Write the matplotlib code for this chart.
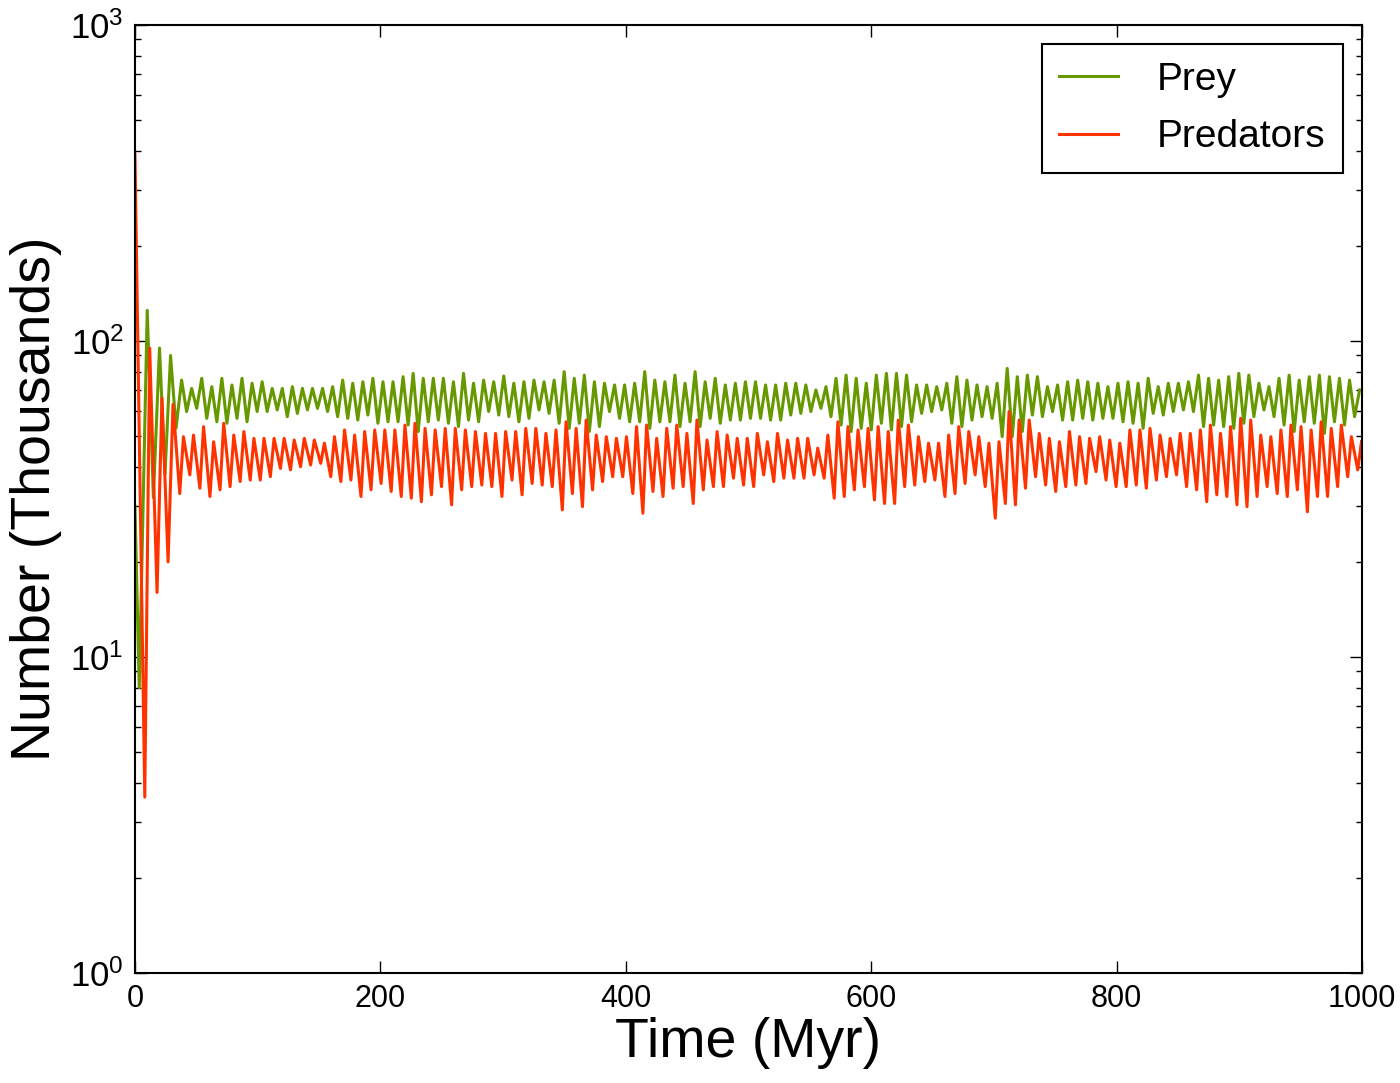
import numpy as np
import matplotlib
matplotlib.use("Agg")
import matplotlib.pyplot as plt

plt.rcParams['font.family'] = ['Liberation Sans', 'DejaVu Sans']
plt.rcParams['mathtext.fontset'] = 'custom'
plt.rcParams['mathtext.rm'] = 'Liberation Sans'
plt.rcParams['mathtext.it'] = 'Liberation Sans:italic'
plt.rcParams['mathtext.bf'] = 'Liberation Sans:bold'

# early transient (time in Myr, numbers in thousands)
prey_early_t = [0, 3.5, 10, 15, 20, 24.5, 29, 33.5]
prey_early = [30, 8, 125, 32, 95, 38, 90, 53]
pred_early_t = [0, 8, 12, 18, 22, 27, 31]
pred_early = [390, 3.6, 95, 16, 66, 20, 63]

# steady oscillation: one peak and one trough per cycle, t from ~38 to 1000 Myr
prey_peaks = [
    75.2, 70.8, 76.2, 71.7, 76.2, 72.6, 76.2, 73.5, 74.3, 70.8, 70.8, 71.7, 70.8, 70.8, 70.8, 71.7, 75.2, 73.5, 74.3, 76.2, 74.3,
    74.3, 77.1, 79.0, 76.2, 76.2, 76.2, 74.3, 79.0, 73.5, 75.2, 74.3, 77.5, 73.5, 74.3, 75.2, 74.3, 75.2, 80.0, 76.2, 78.0, 74.3, 73.5, 72.6, 72.6, 73.5,
    80.0, 75.2, 74.3, 78.0, 73.5, 80.0, 74.3, 76.2, 72.6, 73.5, 74.3, 74.3, 72.6, 72.6, 73.5, 73.5, 72.6, 70.0, 71.7, 76.2, 78.0, 76.2, 73.5, 78.0, 79.0,
    79.0, 78.0, 72.6, 72.6, 71.7, 73.5, 77.1, 75.2, 72.6, 71.7, 73.5, 81.9, 77.1, 78.0, 77.1, 71.7, 72.6, 74.3, 75.2, 74.3, 73.5, 71.7, 73.5, 74.3, 73.5,
    76.2, 71.7, 73.5, 73.5, 74.3, 78.0, 76.2, 75.2, 77.1, 79.0, 78.0, 73.5, 71.7, 76.2, 78.0, 75.2, 77.1, 78.0, 77.1, 76.2, 75.2, 70.0,
]
prey_troughs = [
    59.8, 61.2, 56.9, 55.5, 54.9, 56.9, 55.5, 59.8, 59.8, 60.5, 57.6, 59.0, 60.5, 61.2, 59.8, 57.6, 56.9, 56.2, 58.3, 54.9, 55.5,
    55.5, 54.2, 51.7, 55.5, 56.2, 54.9, 53.6, 56.2, 55.5, 59.8, 58.3, 57.6, 55.5, 56.9, 60.5, 59.0, 54.9, 52.9, 54.9, 51.7, 53.6, 59.8, 56.9, 55.5, 55.5,
    52.9, 55.5, 55.5, 53.6, 55.5, 53.6, 56.9, 54.9, 56.2, 56.2, 56.9, 56.9, 56.2, 56.2, 58.3, 59.0, 59.8, 61.2, 57.6, 54.2, 51.7, 52.9, 52.3, 54.9, 52.3,
    53.6, 55.5, 59.0, 59.8, 60.5, 54.9, 53.6, 56.2, 57.6, 56.9, 49.8, 49.8, 51.7, 58.3, 57.6, 59.8, 56.2, 56.2, 56.9, 56.2, 56.9, 56.9, 55.5, 54.9, 52.9,
    59.0, 58.3, 59.8, 60.5, 59.8, 53.6, 54.2, 53.6, 52.9, 54.9, 57.6, 60.5, 57.6, 54.2, 51.7, 55.5, 54.9, 51.0, 55.5, 54.2, 57.6, 59.0,
]
pred_peaks = [
    49.8, 50.4, 53.6, 48.0, 54.9, 50.4, 51.7, 49.2, 49.2, 49.2, 49.2, 48.6, 49.2, 48.6, 47.5, 49.8, 52.3, 50.4, 51.7, 52.3, 52.3,
    52.3, 54.2, 54.9, 52.9, 52.3, 52.9, 52.9, 52.3, 51.7, 51.0, 51.0, 51.7, 51.7, 52.9, 52.9, 51.0, 52.3, 55.5, 52.9, 56.2, 50.4, 49.8, 49.2, 49.8, 53.6,
    54.2, 49.2, 52.9, 54.2, 51.0, 56.2, 48.6, 51.7, 50.4, 49.2, 49.2, 51.0, 48.0, 51.0, 48.6, 49.2, 49.2, 45.8, 50.4, 55.5, 53.6, 52.3, 52.9, 53.6, 51.7,
    56.2, 54.2, 49.8, 47.5, 47.5, 50.4, 53.6, 51.7, 49.8, 47.5, 48.0, 59.8, 56.2, 56.2, 51.0, 49.2, 48.0, 51.7, 49.8, 49.2, 49.8, 48.6, 47.5, 52.3, 52.3,
    52.9, 50.4, 49.2, 51.0, 51.0, 52.3, 54.2, 51.0, 53.6, 56.9, 56.2, 50.4, 49.8, 52.3, 54.2, 53.6, 52.3, 55.5, 52.9, 54.2, 49.8, 48.0,
]
pred_troughs = [
    32.9, 37.7, 34.2, 32.2, 33.8, 34.6, 35.9, 36.3, 36.3, 37.2, 39.5, 39.1, 40.0, 40.5, 41.0, 37.2, 35.9, 36.3, 32.2, 33.8, 35.4,
    33.4, 32.2, 31.8, 31.0, 32.6, 34.6, 30.3, 33.8, 34.6, 35.0, 34.6, 32.2, 36.3, 32.6, 35.4, 35.0, 34.6, 29.2, 32.9, 29.9, 33.8, 35.9, 37.2, 37.2, 32.9,
    28.5, 33.4, 32.2, 34.2, 34.6, 30.6, 33.8, 34.6, 34.6, 36.8, 35.0, 34.6, 37.7, 35.9, 36.8, 36.8, 36.8, 37.7, 36.8, 31.8, 32.2, 33.8, 34.6, 31.4, 30.6,
    30.6, 34.6, 35.0, 35.9, 36.3, 32.2, 32.9, 35.4, 37.7, 34.6, 27.5, 30.6, 30.3, 34.2, 37.2, 35.0, 33.4, 34.6, 35.0, 35.4, 38.6, 36.3, 34.6, 34.6, 35.0,
    34.2, 36.3, 37.2, 37.7, 34.6, 33.8, 31.0, 32.6, 32.2, 30.3, 29.9, 32.2, 34.6, 32.9, 32.2, 33.8, 28.8, 32.2, 32.2, 34.6, 37.2, 39.1,
]

# cycle times (one peak per cycle)
n = len(prey_peaks)
t_cycle = np.linspace(38, 998, n)
period = t_cycle[1] - t_cycle[0]

# interleave peaks and troughs
prey_t = np.empty(2 * n)
prey_v = np.empty(2 * n)
prey_t[0::2] = t_cycle
prey_t[1::2] = t_cycle + period / 2
prey_v[0::2] = prey_peaks
prey_v[1::2] = prey_troughs
pred_t = np.empty(2 * n)
pred_v = np.empty(2 * n)
pred_t[0::2] = t_cycle - 1.5
pred_t[1::2] = t_cycle + 1.5
pred_v[0::2] = pred_troughs
pred_v[1::2] = pred_peaks

prey_t = np.concatenate([prey_early_t, prey_t])
prey_v = np.concatenate([prey_early, prey_v])
pred_t = np.concatenate([pred_early_t, pred_t])
pred_v = np.concatenate([pred_early, pred_v])
keep = prey_t <= 1000
prey_t, prey_v = prey_t[keep], prey_v[keep]
keep = pred_t <= 1000
pred_t, pred_v = pred_t[keep], pred_v[keep]

fig = plt.figure(figsize=(14, 10.83), dpi=100)
ax = fig.add_axes([0.0964, 0.1016, 0.8765, 0.8753])

ax.plot(prey_t, prey_v, color='#669900', lw=2.2, label='Prey')
ax.plot(pred_t, pred_v, color='#ff3300', lw=2.2, label='Predators')

ax.set_yscale('log')
ax.set_xlim(0, 1000)
ax.set_ylim(1, 1000)
ax.set_xlabel('Time (Myr)', fontsize=40, labelpad=2)
ax.set_ylabel('Number (Thousands)', fontsize=40, labelpad=6)
ax.tick_params(which='both', direction='in', top=True, right=True, pad=8)
ax.tick_params(axis='x', labelsize=22)
ax.tick_params(axis='y', labelsize=25)
ax.tick_params(which='major', length=8.5, width=1)
ax.tick_params(which='minor', length=4.5, width=1)
for s in ax.spines.values():
    s.set_linewidth(1.5)

leg = ax.legend(loc='upper right', fontsize=28, fancybox=False, framealpha=1,
                handlelength=1.5, handletextpad=1.0, borderpad=0.45, labelspacing=0.55)
leg.get_frame().set_edgecolor('black')
leg.get_frame().set_linewidth(1.5)

fig.savefig('out.png', dpi=100)
